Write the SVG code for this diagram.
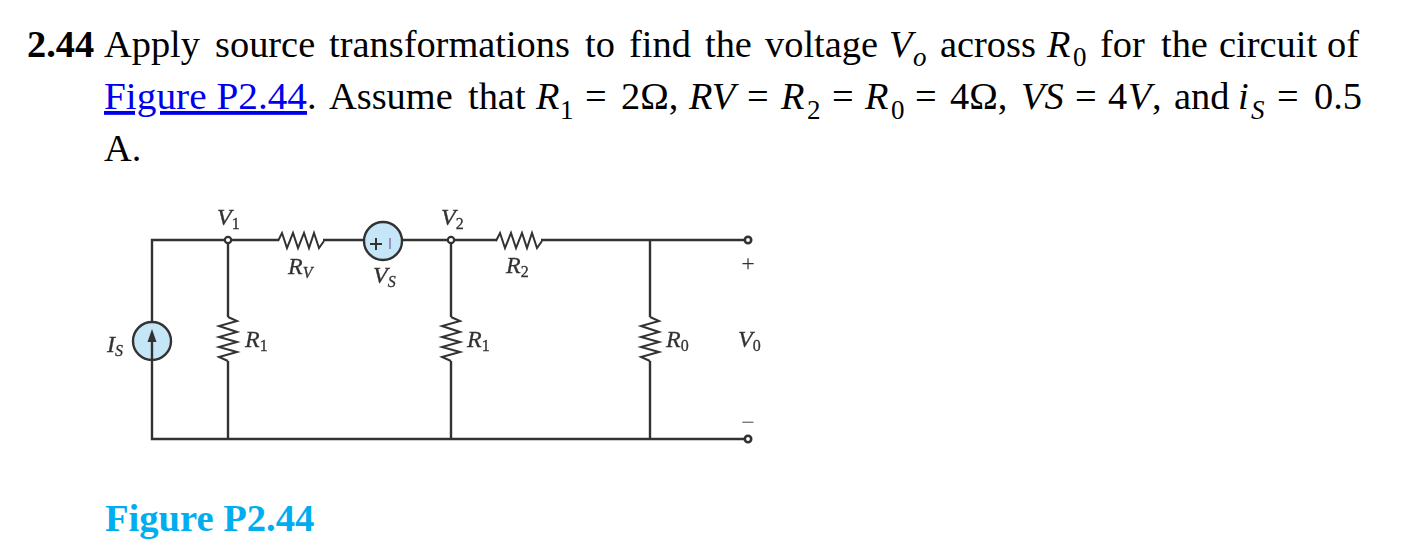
<svg xmlns="http://www.w3.org/2000/svg" width="1416" height="549" viewBox="0 0 1416 549">
<defs>
<style>
text{font-family:"Liberation Serif","Times New Roman",serif;fill:#000}
.t{font-size:38.4px}
.i{font-style:italic}
.sb{font-size:27px}
.b{font-weight:bold}
.link{fill:#0000ee}
.fig{fill:#00aeef;font-weight:bold;font-size:38.6px}
.w{fill:none;stroke:#333;stroke-width:2.4}
.r{fill:none;stroke:#333;stroke-width:2}
.src{fill:#c5e6f6;stroke:#333;stroke-width:2.4}
.node{fill:#fff;stroke:#333;stroke-width:2.2}
.tn{fill:#fff;stroke:#333;stroke-width:2.6}
.l{font-size:24px;font-style:italic;fill:#333;stroke:#333;stroke-width:.3}
.ls{font-size:16px;font-style:normal}
.lsi{font-size:16px;font-style:italic}
</style>
<filter id="soft" x="-5%" y="-5%" width="110%" height="110%"><feGaussianBlur stdDeviation="0.45"/></filter>
<path id="rv" d="M0 -22 L9 -18 L-9 -13 L9 -7 L-9 -2 L9 3 L-9 8 L9 13 L-9 18 L0 22" class="r"/>
<path id="rh" d="M-23 0 L-19 -8 L-14 7 L-8 -8 L-3 7 L3 -8 L8 7 L13 -8 L18 7 L23 0" class="r"/>
</defs>

<g id="problem-text">
<text class="t b" x="27" y="56.5">2.44</text>
<text class="t" y="56.5"><tspan x="104">Apply</tspan><tspan x="215">source</tspan><tspan x="329">transformations</tspan><tspan x="585">to</tspan><tspan x="629">find</tspan><tspan x="705">the</tspan><tspan x="765">voltage</tspan></text>
<text class="t i" x="889" y="56.5">V</text>
<text class="sb i" x="913" y="66">o</text>
<text class="t" x="940" y="56.5">across</text>
<text class="t i" x="1047" y="56.5">R</text>
<text class="sb" x="1073" y="66">0</text>
<text class="t" y="56.5"><tspan x="1100">for</tspan><tspan x="1161">the</tspan><tspan x="1219">circuit</tspan><tspan x="1327">of</tspan></text>

<text class="t link" x="104" y="109" text-decoration="underline" textLength="203" lengthAdjust="spacingAndGlyphs">Figure P2.44</text>
<text class="t" x="307" y="109">.</text>
<text class="t" y="109"><tspan x="329">Assume</tspan><tspan x="468">that</tspan></text>
<text class="t i" x="536" y="109">R</text>
<text class="sb" x="560" y="118.5">1</text>
<text class="t" x="585" y="109">=</text>
<text class="t" x="621" y="109">2Ω,</text>
<text class="t i" x="689" y="109">RV</text>
<text class="t" x="747" y="109">=</text>
<text class="t i" x="781" y="109">R</text>
<text class="sb" x="807" y="118.5">2</text>
<text class="t" x="832" y="109">=</text>
<text class="t i" x="865" y="109">R</text>
<text class="sb" x="891" y="118.5">0</text>
<text class="t" x="915" y="109">=</text>
<text class="t" x="950" y="109">4Ω,</text>
<text class="t i" x="1021" y="109">VS</text>
<text class="t" x="1075" y="109">=</text>
<text class="t" x="1108" y="109">4</text>
<text class="t i" x="1128" y="109">V</text>
<text class="t" x="1152" y="109">,</text>
<text class="t" x="1174" y="109">and</text>
<text class="t i" x="1238" y="109">i</text>
<text class="sb i" x="1251" y="118.5">S</text>
<text class="t" x="1277" y="109">=</text>
<text class="t" x="1314" y="109">0.5</text>
<text class="t" x="104" y="161">A.</text>
</g>

<g filter="url(#soft)">
<g id="connectors">
<path class="w" d="M152 341V240H278M323 240H364M402 240H497M541 240H748M152 341V439H748M228 240V317M228 361V439M451 240V317M451 361V439M650 240V317M650 361V439"/>
</g>
<g id="source-is">
<circle class="src" cx="152" cy="341" r="19"/>
<path class="w" d="M152 359V336"/>
<path d="M152 329L147.500 342H156.500Z" fill="#333"/>
<text class="l" x="107" y="352">I<tspan class="lsi" dy="4">S</tspan></text>
</g>
<g id="node-v1">
<circle class="node" cx="228" cy="240" r="3.2"/>
<text class="l" x="217" y="225">V<tspan class="ls" dy="4">1</tspan></text>
</g>
<g id="resistor-r1-left">
<use href="#rv" x="228" y="339"/>
<text class="l" x="245" y="347">R<tspan class="ls" dy="4">1</tspan></text>
</g>
<g id="resistor-rv">
<use href="#rh" x="301" y="241"/>
<text class="l" x="288" y="274">R<tspan class="lsi" dy="4">V</tspan></text>
</g>
<g id="source-vs">
<circle class="src" cx="383" cy="241" r="19"/>
<path class="r" d="M370 244H382M376 238V250"/>
<path d="M390 238V249" fill="none" stroke="#8a7fb5" stroke-width="1.6"/>
<text class="l" x="373" y="283">V<tspan class="lsi" dy="4">S</tspan></text>
</g>
<g id="node-v2">
<circle class="node" cx="451" cy="240" r="3.2"/>
<text class="l" x="441" y="225">V<tspan class="ls" dy="4">2</tspan></text>
</g>
<g id="resistor-r1-right">
<use href="#rv" x="451" y="339"/>
<text class="l" x="467" y="347">R<tspan class="ls" dy="4">1</tspan></text>
</g>
<g id="resistor-r2">
<use href="#rh" x="519" y="241"/>
<text class="l" x="506" y="273">R<tspan class="ls" dy="4">2</tspan></text>
</g>
<g id="resistor-r0">
<use href="#rv" x="650" y="339"/>
<text class="l" x="666" y="347">R<tspan class="ls" dy="4">0</tspan></text>
</g>
<g id="terminal-plus">
<circle class="tn" cx="748" cy="240" r="3.2"/>
<text x="748" y="271" text-anchor="middle" font-size="24" style="fill:#333">+</text>
</g>
<g id="label-v0">
<text class="l" x="738" y="347">V<tspan class="ls" dy="4">0</tspan></text>
</g>
<g id="terminal-minus">
<text x="748" y="430" text-anchor="middle" font-size="24" style="fill:#666">−</text>
<circle class="tn" cx="748" cy="439" r="3.2"/>
</g>
</g>

<g id="caption">
<text class="fig" x="105" y="531">Figure P2.44</text>
</g>
</svg>
